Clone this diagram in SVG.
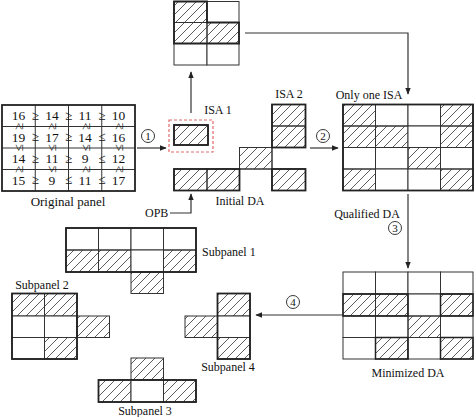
<svg xmlns="http://www.w3.org/2000/svg" width="474" height="417" viewBox="0 0 474 417" font-family="'Liberation Serif', 'Times New Roman', serif">
<defs>
<pattern id="hatch" patternUnits="userSpaceOnUse" width="9" height="9">
<path d="M-2,2 L2,-2 M0,9 L9,0 M7,11 L11,7" stroke="#333" stroke-width="0.8"/>
</pattern>
<marker id="arr" viewBox="0 0 10 10" refX="9" refY="5" markerWidth="7" markerHeight="7" orient="auto" markerUnits="userSpaceOnUse">
<path d="M0,1 L10,5 L0,9 Z" fill="#222"/>
</marker>
<style>
.c{fill:#fff;stroke:#333;stroke-width:1}
.h{fill:url(#hatch)}
.t{fill:none;stroke:#222;stroke-width:1.8}
.ln{fill:none;stroke:#333;stroke-width:1.2}
text{font-family:"Liberation Serif","Times New Roman",serif;font-size:12px;fill:#111}
.n{font-size:13.5px;text-anchor:middle}
.s{font-size:13px;text-anchor:middle}
.r{font-size:13px;text-anchor:middle;dominant-baseline:central}
.m{text-anchor:middle}
.cn{font-size:11px;text-anchor:middle}
.ci{fill:none;stroke:#222;stroke-width:0.9}
</style>
</defs>
<rect width="474" height="417" fill="#fff"/>

<g id="original-panel">
<path class="ln" d="M2,126.5H135M2,148H135M2,169.5H135M35.25,105V191M68.5,105V191M101.75,105V191" style="stroke-width:1"/>
<rect class="t" x="2" y="105" width="133" height="86"/>
<text class="n" x="18.6" y="120">16</text><text class="n" x="51.9" y="120">14</text><text class="n" x="85.1" y="120">11</text><text class="n" x="118.4" y="120">10</text>
<text class="n" x="18.6" y="141.5">19</text><text class="n" x="51.9" y="141.5">17</text><text class="n" x="85.1" y="141.5">14</text><text class="n" x="118.4" y="141.5">16</text>
<text class="n" x="18.6" y="163">14</text><text class="n" x="51.9" y="163">11</text><text class="n" x="85.1" y="163">9</text><text class="n" x="118.4" y="163">12</text>
<text class="n" x="18.6" y="184.5">15</text><text class="n" x="51.9" y="184.5">9</text><text class="n" x="85.1" y="184.5">11</text><text class="n" x="118.4" y="184.5">17</text>
<text class="s" x="35.25" y="119.5">≥</text><text class="s" x="68.5" y="119.5">≥</text><text class="s" x="101.75" y="119.5">≥</text>
<text class="s" x="35.25" y="141">≥</text><text class="s" x="68.5" y="141">≥</text><text class="s" x="101.75" y="141">≤</text>
<text class="s" x="35.25" y="162.5">≥</text><text class="s" x="68.5" y="162.5">≥</text><text class="s" x="101.75" y="162.5">≤</text>
<text class="s" x="35.25" y="184">≥</text><text class="s" x="68.5" y="184">≤</text><text class="s" x="101.75" y="184">≤</text>
<text class="r" transform="translate(18.6,126.5) rotate(-90)">≥</text><text class="r" transform="translate(51.9,126.5) rotate(-90)">≥</text><text class="r" transform="translate(85.1,126.5) rotate(-90)">≥</text><text class="r" transform="translate(118.4,126.5) rotate(-90)">≥</text>
<text class="r" transform="translate(18.6,148) rotate(-90)">≤</text><text class="r" transform="translate(51.9,148) rotate(-90)">≤</text><text class="r" transform="translate(85.1,148) rotate(-90)">≤</text><text class="r" transform="translate(118.4,148) rotate(-90)">≤</text>
<text class="r" transform="translate(18.6,169.5) rotate(-90)">≥</text><text class="r" transform="translate(51.9,169.5) rotate(-90)">≤</text><text class="r" transform="translate(85.1,169.5) rotate(-90)">≥</text><text class="r" transform="translate(118.4,169.5) rotate(-90)">≥</text>
<text class="m" x="68" y="206" style="font-size:13px">Original panel</text>
</g>

<g id="top-grid">
<rect class="c h" x="174" y="1.5" width="33" height="21"/>
<rect class="c" x="207" y="1.5" width="32" height="21"/>
<rect class="c h" x="174" y="22.5" width="33" height="21"/>
<rect class="c h" x="207" y="22.5" width="32" height="21"/>
<rect class="c" x="174" y="43.5" width="33" height="21.5"/>
<rect class="c" x="207" y="43.5" width="32" height="21.5"/>
<path class="t" d="M174,1.5H207V22.5H239V43.5H174Z"/>
</g>

<g id="isa1">
<rect x="169" y="120" width="44" height="32" fill="none" stroke="#e06b6b" stroke-width="1.2" stroke-dasharray="3,2"/>
<rect class="c h" x="174" y="125" width="34" height="20"/>
<rect class="t" x="174" y="125" width="34" height="20"/>
<text class="m" x="218" y="114">ISA 1</text>
</g>

<g id="initial-da">
<rect class="c h" x="272" y="104.5" width="33.5" height="21.5"/>
<rect class="c h" x="272" y="126" width="33.5" height="21.5"/>
<rect class="c h" x="239.5" y="147.5" width="32.5" height="21.5"/>
<rect class="c h" x="174" y="169" width="33" height="21.5"/>
<rect class="c h" x="207" y="169" width="32.5" height="21.5"/>
<path class="ln" d="M239.5,169H272M272,147.5V169" style="stroke-width:1"/>
<rect class="c h" x="272" y="169" width="33.5" height="21.5"/>
<rect class="t" x="272" y="104.5" width="33.5" height="43"/>
<rect class="t" x="174" y="169" width="65.5" height="21.5"/>
<rect class="t" x="272" y="169" width="33.5" height="21.5"/>
<text class="m" x="240" y="205">Initial DA</text>
<text class="m" x="289" y="98">ISA 2</text>
</g>

<g id="qualified-da">
<rect class="c h" x="343" y="104.5" width="32.5" height="21.5"/>
<rect class="c" x="375.5" y="104.5" width="32.5" height="21.5"/>
<rect class="c" x="408" y="104.5" width="32.5" height="21.5"/>
<rect class="c h" x="440.5" y="104.5" width="32.5" height="21.5"/>
<rect class="c h" x="343" y="126" width="32.5" height="21.5"/>
<rect class="c h" x="375.5" y="126" width="32.5" height="21.5"/>
<rect class="c" x="408" y="126" width="32.5" height="21.5"/>
<rect class="c h" x="440.5" y="126" width="32.5" height="21.5"/>
<rect class="c" x="343" y="147.5" width="32.5" height="21.5"/>
<rect class="c" x="375.5" y="147.5" width="32.5" height="21.5"/>
<rect class="c h" x="408" y="147.5" width="32.5" height="21.5"/>
<rect class="c" x="440.5" y="147.5" width="32.5" height="21.5"/>
<rect class="c h" x="343" y="169" width="32.5" height="21.5"/>
<rect class="c" x="375.5" y="169" width="32.5" height="21.5"/>
<rect class="c" x="408" y="169" width="32.5" height="21.5"/>
<rect class="c h" x="440.5" y="169" width="32.5" height="21.5"/>
<rect class="t" x="343" y="104.5" width="130" height="86"/>
<text class="m" x="369" y="99">Only one ISA</text>
<text class="m" x="367" y="218">Qualified DA</text>
</g>

<g id="minimized-da">
<rect class="c" x="343" y="272" width="32.5" height="22"/>
<rect class="c" x="375.5" y="272" width="32.5" height="22"/>
<rect class="c" x="408" y="272" width="32.5" height="22"/>
<rect class="c" x="440.5" y="272" width="32.5" height="22"/>
<rect class="c h" x="343" y="294" width="32.5" height="22"/>
<rect class="c h" x="375.5" y="294" width="32.5" height="22"/>
<rect class="c" x="408" y="294" width="32.5" height="22"/>
<rect class="c h" x="440.5" y="294" width="32.5" height="22"/>
<rect class="c" x="343" y="316" width="32.5" height="21.5"/>
<rect class="c" x="375.5" y="316" width="32.5" height="21.5"/>
<rect class="c h" x="408" y="316" width="32.5" height="21.5"/>
<rect class="c" x="440.5" y="316" width="32.5" height="21.5"/>
<rect class="c" x="343" y="337.5" width="32.5" height="21.5"/>
<rect class="c h" x="375.5" y="337.5" width="32.5" height="21.5"/>
<rect class="c" x="408" y="337.5" width="32.5" height="21.5"/>
<rect class="c h" x="440.5" y="337.5" width="32.5" height="21.5"/>
<rect class="t" x="343" y="294" width="65" height="22" style="stroke-width:1.5"/>
<rect class="t" x="440.5" y="294" width="32.5" height="22" style="stroke-width:1.5"/>
<rect class="t" x="375.5" y="337.5" width="32.5" height="21.5" style="stroke-width:1.5"/>
<rect class="t" x="440.5" y="337.5" width="32.5" height="21.5" style="stroke-width:1.5"/>
<text class="m" x="408" y="377">Minimized DA</text>
</g>

<g id="subpanel-1">
<rect class="c" x="66" y="228" width="32.5" height="22"/>
<rect class="c" x="98.5" y="228" width="32.5" height="22"/>
<rect class="c" x="131" y="228" width="32.5" height="22"/>
<rect class="c" x="163.5" y="228" width="32.5" height="22"/>
<rect class="c h" x="66" y="250" width="32.5" height="22"/>
<rect class="c h" x="98.5" y="250" width="32.5" height="22"/>
<rect class="c" x="131" y="250" width="32.5" height="22"/>
<rect class="c h" x="163.5" y="250" width="32.5" height="22"/>
<rect class="c h" x="131" y="272" width="32.5" height="21.5"/>
<rect class="t" x="66" y="228" width="130" height="44"/>
<text x="202" y="256">Subpanel 1</text>
</g>

<g id="subpanel-2">
<rect class="c h" x="12" y="293.5" width="32.5" height="22.5"/>
<rect class="c h" x="44.5" y="293.5" width="32.5" height="22.5"/>
<rect class="c" x="12" y="316" width="32.5" height="21.5"/>
<rect class="c" x="44.5" y="316" width="32.5" height="21.5"/>
<rect class="c h" x="77" y="316" width="32.5" height="21.5"/>
<rect class="c" x="12" y="337.5" width="32.5" height="21.5"/>
<rect class="c h" x="44.5" y="337.5" width="32.5" height="21.5"/>
<rect class="t" x="12" y="293.5" width="65" height="65.5"/>
<text class="m" x="42" y="289">Subpanel 2</text>
</g>

<g id="subpanel-4">
<rect class="c h" x="217.5" y="293.5" width="32.5" height="22.5"/>
<rect class="c h" x="185" y="316" width="32.5" height="21.5"/>
<rect class="c" x="217.5" y="316" width="32.5" height="21.5"/>
<rect class="c h" x="217.5" y="337.5" width="32.5" height="21.5"/>
<rect class="t" x="217.5" y="293.5" width="32.5" height="65.5"/>
<text class="m" x="228" y="371">Subpanel 4</text>
</g>

<g id="subpanel-3">
<rect class="c h" x="131" y="358" width="32.5" height="22"/>
<rect class="c h" x="98.5" y="380" width="32.5" height="22"/>
<rect class="c" x="131" y="380" width="32.5" height="22"/>
<rect class="c h" x="163.5" y="380" width="32.5" height="22"/>
<rect class="t" x="98.5" y="380" width="97.5" height="22"/>
<text class="m" x="145" y="415">Subpanel 3</text>
</g>

<g id="connectors">
<path class="ln" d="M137,148H166" marker-end="url(#arr)"/>
<path class="ln" d="M191,113V72" marker-end="url(#arr)"/>
<path class="ln" d="M245,33H408V94" marker-end="url(#arr)"/>
<path class="ln" d="M310,148H338" marker-end="url(#arr)"/>
<path class="ln" d="M170,213H191V194" marker-end="url(#arr)"/>
<path class="ln" d="M408,194V268" marker-end="url(#arr)"/>
<path class="ln" d="M342,315H256" marker-end="url(#arr)"/>
<text x="145" y="217">OPB</text>
<circle class="ci" cx="148" cy="136" r="6.5"/><text class="cn" x="148" y="140">1</text>
<circle class="ci" cx="323" cy="136" r="6.5"/><text class="cn" x="323" y="140">2</text>
<circle class="ci" cx="395" cy="228" r="6.5"/><text class="cn" x="395" y="232">3</text>
<circle class="ci" cx="293" cy="302" r="6.5"/><text class="cn" x="293" y="306">4</text>
</g>
</svg>
